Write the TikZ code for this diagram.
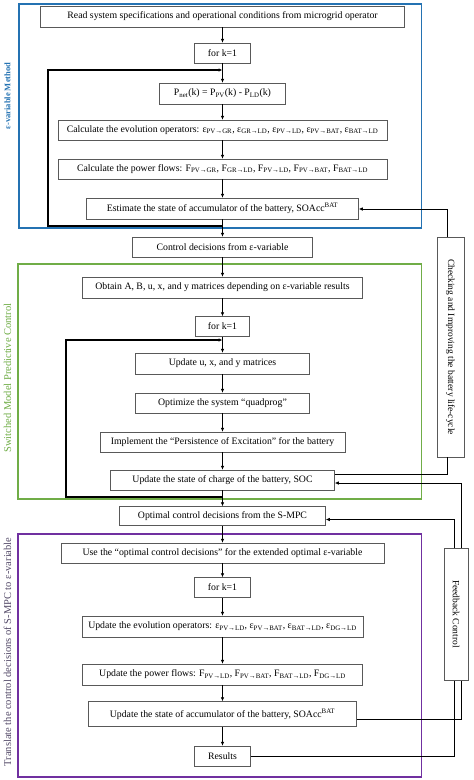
\documentclass[tikz,border=0pt]{standalone}
\usepackage{fontspec}
\setmainfont{Liberation Serif}
\usetikzlibrary{arrows.meta}

\definecolor{evblue}{RGB}{36,114,178}
\definecolor{mpcgreen}{RGB}{112,173,71}
\definecolor{trpurple}{RGB}{112,48,160}
\definecolor{trtext}{RGB}{85,75,105}

\newcommand{\sbs}[1]{\textsubscript{#1}}

\begin{document}
\begin{tikzpicture}[
    x=1pt, y=-1pt,
    box/.style={rectangle, draw=gray!70!black, line width=0.5pt, fill=white, minimum height=20pt, inner sep=1pt, align=center, font=\fontsize{9.8}{11}\selectfont},
    sidebox/.style={box, rotate=-90, font=\fontsize{9.5}{10}\selectfont},
    frame/.style={line width=1.7pt},
    flow/.style={-{Latex[length=4pt,width=3.5pt]}, line width=0.6pt},
    loopline/.style={-{Latex[length=4pt,width=3.5pt]}, line width=1.3pt},
    fbline/.style={line width=1pt},
    fbarrow/.style={fbline, -{Latex[length=4pt,width=3.5pt]}},
    sidelabel/.style={rotate=90, font=\fontsize{10.5}{12}\selectfont}
]
\useasboundingbox (0,0) rectangle (474,780);

% ===== FRAMES =====
\draw[frame, evblue] (19,4) rectangle (421.5,228);
\draw[frame, mpcgreen] (18,264) rectangle (421.5,499);
\draw[frame, trpurple] (18,534) rectangle (421.5,777);

\node[sidelabel, text=evblue, font=\fontsize{8.5}{10}\selectfont\bfseries] (lab_ev) at (7.5,96) {ε-variable Method};
\node[sidelabel, text=mpcgreen] (lab_mpc) at (7.5,378) {Switched Model Predictive Control};
\node[sidelabel, text=trtext] (lab_tr) at (7.5,652) {Translate the control decisions of S-MPC to ε-variable};

% ===== LOOP COORDINATES =====
\coordinate (loop1_top) at (48,70);
\coordinate (loop1_bot) at (48,226);
\coordinate (loop2_top) at (66,340);
\coordinate (loop2_bot) at (66,497);

% ===== ε-VARIABLE METHOD =====
\node[box, minimum width=364pt, minimum height=21pt] (read) at (222.5,16.5) {Read system specifications and operational conditions from microgrid operator};
\node[box, minimum width=56pt] (fork1) at (222.5,53) {for k=1};
\node[box, minimum width=126pt, minimum height=21pt] (pnet) at (222.5,93.5) {P\sbs{net}(k) = P\sbs{PV}(k) - P\sbs{LD}(k)};
\node[box, minimum width=329pt] (evol) at (222.5,130) {Calculate the evolution operators: ε\sbs{PV→GR}, ε\sbs{GR→LD}, ε\sbs{PV→LD}, ε\sbs{PV→BAT}, ε\sbs{BAT→LD}};
\node[box, minimum width=329pt] (pflow) at (222.5,169) {Calculate the power flows: F\sbs{PV→GR}, F\sbs{GR→LD}, F\sbs{PV→LD}, F\sbs{PV→BAT}, F\sbs{BAT→LD}};
\node[box, minimum width=272pt, minimum height=21pt] (est) at (222.5,208.5) {Estimate the state of accumulator of the battery, SOAcc\textsuperscript{BAT}};
\node[box, minimum width=180pt] (ctrl) at (222.5,247) {Control decisions from ε-variable};

% ===== SWITCHED MPC =====
\node[box, minimum width=280pt, minimum height=21pt] (obtain) at (222.5,287.5) {Obtain A, B, u, x, and y matrices depending on ε-variable results};
\node[box, minimum width=54pt] (fork2) at (222.5,326.5) {for k=1};
\node[box, minimum width=174pt, minimum height=21pt] (upd) at (222.5,363.5) {Update u, x, and y matrices};
\node[box, minimum width=174pt] (opt) at (222.5,403) {Optimize the system “quadprog”};
\node[box, minimum width=245pt] (pers) at (222.5,442) {Implement the “Persistence of Excitation” for the battery};
\node[box, minimum width=224pt] (soc) at (222.5,480) {Update the state of charge of the battery, SOC};
\node[box, minimum width=206pt, minimum height=19pt] (optctrl) at (222.5,516) {Optimal control decisions from the S-MPC};

% ===== TRANSLATION =====
\node[box, minimum width=323pt] (use) at (222.5,553) {Use the “optimal control decisions” for the extended optimal ε-variable};
\node[box, minimum width=56pt] (fork3) at (222.5,587.5) {for k=1};
\node[box, minimum width=281pt, minimum height=21pt] (uevol) at (222.5,626.5) {Update the evolution operators: ε\sbs{PV→LD}, ε\sbs{PV→BAT}, ε\sbs{BAT→LD}, ε\sbs{DG→LD}};
\node[box, minimum width=280pt, minimum height=21pt] (upflow) at (222.5,674.5) {Update the power flows: F\sbs{PV→LD}, F\sbs{PV→BAT}, F\sbs{BAT→LD}, F\sbs{DG→LD}};
\node[box, minimum width=268pt, minimum height=25pt] (soacc) at (222.5,714) {Update the state of accumulator of the battery, SOAcc\textsuperscript{BAT}};
\node[box, minimum width=56pt] (results) at (222.5,756) {Results};

% ===== MAIN FLOW =====
\draw[flow] (read) -- (fork1);
\draw[flow] (fork1) -- (pnet);
\draw[flow] (pnet) -- (evol);
\draw[flow] (evol) -- (pflow);
\draw[flow] (pflow) -- (est);
\draw[flow] (est) -- (ctrl);
\draw[flow] (ctrl) -- (obtain);
\draw[flow] (obtain) -- (fork2);
\draw[flow] (fork2) -- (upd);
\draw[flow] (upd) -- (opt);
\draw[flow] (opt) -- (pers);
\draw[flow] (pers) -- (soc);
\draw[flow] (soc) -- (optctrl);
\draw[flow] (optctrl) -- (use);
\draw[flow] (use) -- (fork3);
\draw[flow] (fork3) -- (uevol);
\draw[flow] (uevol) -- (upflow);
\draw[flow] (upflow) -- (soacc);
\draw[flow] (soacc) -- (results);

% loops over k
\draw[loopline] (est.south |- loop1_bot) -- (loop1_bot) -- (loop1_top) -- (loop1_top -| fork1.south);
\draw[loopline] (soc.south |- loop2_bot) -- (loop2_bot) -- (loop2_top) -- (loop2_top -| fork2.south);

% ===== FEEDBACK LINES =====
\coordinate (chk_in) at (447,474);
\coordinate (chk_out) at (447,209);
\coordinate (fb_soc) at (461,483);
\coordinate (fb_opt) at (454,519.5);
\draw[fbarrow] ([yshift=-5pt]soacc.east) -| (fb_soc) -- (fb_soc -| soc.east);
\draw[fbarrow] (results.east) -| (fb_opt) -- (fb_opt -| optctrl.east);

% ===== SIDE BOXES =====
\node[sidebox, minimum width=220pt, minimum height=27pt] (chk) at (450.5,347) {Checking and Improving the battery life-cycle};
\node[sidebox, minimum width=132pt, minimum height=24pt] (fbc) at (456,614) {Feedback Control};
\draw[fbline] (soc.east |- chk_in) -- (chk_in) -- (chk_in |- chk.east);
\draw[fbarrow] (chk_out |- chk.west) -- (chk_out) -- (chk_out -| est.east);

\end{tikzpicture}
\end{document}
